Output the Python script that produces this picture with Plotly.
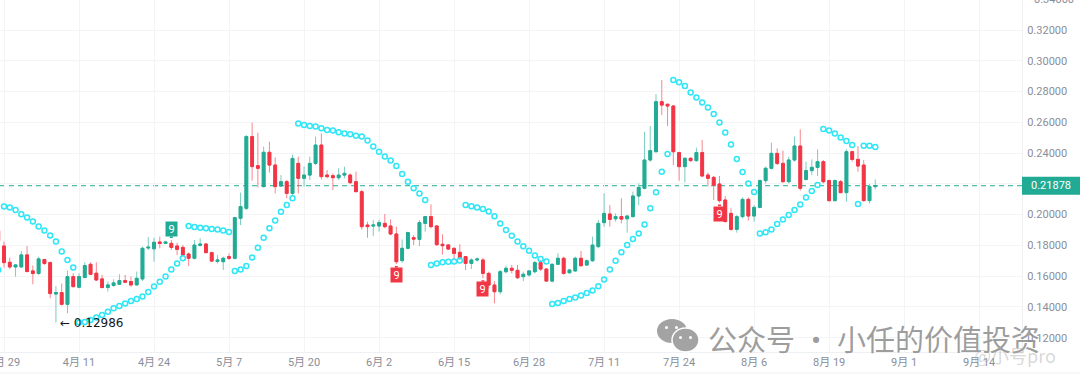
import pandas as pd
import plotly.graph_objects as go

# ---------------- data ----------------
dates = pd.date_range("2024-03-28", "2024-08-27", freq="D")

opens = [
    0.1895, 0.1796, 0.1690, 0.1660,
    0.1660, 0.1738, 0.1634, 0.1617, 0.1708, 0.1688, 0.1484, 0.1493, 0.1417, 0.1597,
    0.1528, 0.1591, 0.1677, 0.1619, 0.1582, 0.1526, 0.1539, 0.1547, 0.1571, 0.1565,
    0.1543, 0.1582, 0.1783, 0.1778, 0.1822, 0.1813, 0.1813, 0.1796, 0.1787, 0.1744,
    0.1716, 0.1800, 0.1809, 0.1753, 0.1696, 0.1694, 0.1727, 0.1716, 0.1976, 0.2041,
    0.2507, 0.2318, 0.2182, 0.2405, 0.2322, 0.2186, 0.2214, 0.2138, 0.2333, 0.2236,
    0.2257, 0.2333, 0.2452, 0.2257, 0.2253, 0.2240, 0.2257, 0.2257, 0.2214, 0.2149, 0.1932,
    0.1926, 0.1926, 0.1943, 0.1926, 0.1874, 0.1701, 0.1781, 0.1850, 0.1839, 0.1943,
    0.1987, 0.1926, 0.1807, 0.1803, 0.1781, 0.1755, 0.1727, 0.1683, 0.1705, 0.1705,
    0.1618, 0.1542, 0.1499, 0.1629, 0.1651, 0.1638, 0.1597, 0.1608, 0.1629, 0.1688,
    0.1646, 0.1568, 0.1677, 0.1716, 0.1622, 0.1634, 0.1716, 0.1672, 0.1700, 0.1792,
    0.1948, 0.2004, 0.1973, 0.1987, 0.1973, 0.1987, 0.2121, 0.2171, 0.2355, 0.2409,
    0.2734, 0.2717, 0.2706, 0.2403, 0.2312, 0.2366, 0.2351, 0.2403, 0.2257, 0.2242, 0.2199,
    0.2095, 0.2008, 0.1904, 0.1987, 0.2099, 0.1991, 0.2047, 0.2221, 0.2301, 0.2398,
    0.2333, 0.2214, 0.2355, 0.2446, 0.2229, 0.2286, 0.2307, 0.2344, 0.2221, 0.2091,
    0.2214, 0.2143, 0.2409, 0.2359, 0.2322, 0.2091, 0.2182,
]
highs = [
    0.1905, 0.1825, 0.1721, 0.1677,
    0.1764, 0.1796, 0.1669, 0.1727, 0.1712, 0.1695, 0.1536, 0.1552, 0.1636, 0.1619,
    0.1619, 0.1690, 0.1690, 0.1690, 0.1608, 0.1565, 0.1580, 0.1612, 0.1608, 0.1597,
    0.1630, 0.1792, 0.1854, 0.1850, 0.1857, 0.1830, 0.1835, 0.1818, 0.1802, 0.1753,
    0.1835, 0.1846, 0.1813, 0.1759, 0.1737, 0.1727, 0.1748, 0.1987, 0.2143, 0.2517,
    0.2598, 0.2533, 0.2442, 0.2474, 0.2372, 0.2257, 0.2225, 0.2390, 0.2377, 0.2312,
    0.2377, 0.2507, 0.2528, 0.2290, 0.2268, 0.2301, 0.2312, 0.2268, 0.2279, 0.2160, 0.1954,
    0.1965, 0.1965, 0.2004, 0.1969, 0.1922, 0.1839, 0.1889, 0.1867, 0.1965, 0.1991,
    0.2067, 0.1932, 0.1872, 0.1807, 0.1785, 0.1807, 0.1731, 0.1716, 0.1720, 0.1720,
    0.1629, 0.1568, 0.1640, 0.1668, 0.1673, 0.1673, 0.1629, 0.1640, 0.1699, 0.1705,
    0.1651, 0.1683, 0.1748, 0.1727, 0.1646, 0.1727, 0.1764, 0.1709, 0.1857, 0.1965,
    0.2138, 0.2062, 0.2008, 0.2106, 0.1997, 0.2149, 0.2203, 0.2539, 0.2576, 0.2784,
    0.2875, 0.2723, 0.2712, 0.2409, 0.2372, 0.2372, 0.2435, 0.2485, 0.2273, 0.2251, 0.2251,
    0.2121, 0.2041, 0.1997, 0.2112, 0.2112, 0.2062, 0.2229, 0.2312, 0.2468, 0.2431,
    0.2416, 0.2377, 0.2507, 0.2554, 0.2344, 0.2359, 0.2424, 0.2355, 0.2229, 0.2229,
    0.2225, 0.2424, 0.2416, 0.2446, 0.2355, 0.2199, 0.2229,
]
lows = [
    0.1815, 0.1656, 0.1647, 0.1597,
    0.1656, 0.1625, 0.1547, 0.1608, 0.1673, 0.1456, 0.12986, 0.1409, 0.1359, 0.1526,
    0.1521, 0.1586, 0.1608, 0.1569, 0.1521, 0.1500, 0.1532, 0.1543, 0.1554, 0.1532,
    0.1539, 0.1569, 0.1770, 0.1694, 0.1781, 0.1809, 0.1770, 0.1737, 0.1727, 0.1666,
    0.1709, 0.1792, 0.1748, 0.1694, 0.1683, 0.1640, 0.1705, 0.1709, 0.1932, 0.2030,
    0.2221, 0.2177, 0.2177, 0.2273, 0.2138, 0.2182, 0.2106, 0.2127, 0.2138, 0.2182,
    0.2225, 0.2322, 0.2229, 0.2236, 0.2160, 0.2225, 0.2236, 0.2199, 0.2149, 0.1904, 0.1850,
    0.1861, 0.1889, 0.1911, 0.1867, 0.1679, 0.1688, 0.1774, 0.1802, 0.1796, 0.1889,
    0.1911, 0.1796, 0.1740, 0.1770, 0.1711, 0.1705, 0.1640, 0.1646, 0.1694, 0.1586,
    0.1521, 0.1423, 0.1482, 0.1618, 0.1618, 0.1581, 0.1568, 0.1597, 0.1618, 0.1634,
    0.1564, 0.1560, 0.1673, 0.1608, 0.1618, 0.1629, 0.1662, 0.1666, 0.1694, 0.1781,
    0.1922, 0.1922, 0.1954, 0.1943, 0.1883, 0.1982, 0.2062, 0.2164, 0.2344, 0.2403,
    0.2647, 0.2576, 0.2322, 0.2221, 0.2208, 0.2344, 0.2344, 0.2247, 0.2182, 0.2095, 0.2078,
    0.1948, 0.1896, 0.1883, 0.1976, 0.1961, 0.1954, 0.2041, 0.2203, 0.2294, 0.2322,
    0.2208, 0.2203, 0.2344, 0.2156, 0.2221, 0.2257, 0.2251, 0.2203, 0.2084, 0.2084,
    0.2138, 0.2084, 0.2344, 0.2279, 0.2084, 0.2073, 0.2164,
]
closes = [
    0.1830, 0.1688, 0.1660, 0.1673,
    0.1738, 0.1630, 0.1617, 0.1712, 0.1682, 0.1487, 0.1493, 0.1417, 0.1597, 0.1532,
    0.1597, 0.1669, 0.1612, 0.1575, 0.1526, 0.1543, 0.1556, 0.1571, 0.1560, 0.1543,
    0.1586, 0.1781, 0.1788, 0.1820, 0.1813, 0.1822, 0.1787, 0.1774, 0.1737, 0.1716,
    0.1802, 0.1809, 0.1753, 0.1698, 0.1705, 0.1716, 0.1716, 0.1980, 0.2052, 0.2507,
    0.2312, 0.2301, 0.2405, 0.2322, 0.2182, 0.2214, 0.2138, 0.2365, 0.2236, 0.2257,
    0.2333, 0.2452, 0.2247, 0.2247, 0.2240, 0.2257, 0.2268, 0.2208, 0.2149, 0.1922, 0.1922,
    0.1932, 0.1948, 0.1922, 0.1874, 0.1694, 0.1781, 0.1883, 0.1841, 0.1948, 0.1987,
    0.1922, 0.1805, 0.1798, 0.1776, 0.1748, 0.1720, 0.1683, 0.1705, 0.1711, 0.1618,
    0.1542, 0.1499, 0.1629, 0.1651, 0.1638, 0.1590, 0.1612, 0.1634, 0.1688, 0.1646,
    0.1568, 0.1677, 0.1716, 0.1618, 0.1640, 0.1716, 0.1668, 0.1700, 0.1802, 0.1943,
    0.2008, 0.1969, 0.1987, 0.1971, 0.1991, 0.2121, 0.2177, 0.2355, 0.2416, 0.2734,
    0.2712, 0.2706, 0.2409, 0.2312, 0.2366, 0.2351, 0.2403, 0.2251, 0.2236, 0.2192, 0.2091,
    0.1955, 0.1904, 0.1987, 0.2099, 0.1991, 0.2047, 0.2221, 0.2301, 0.2398, 0.2333,
    0.2214, 0.2355, 0.2446, 0.2171, 0.2286, 0.2307, 0.2344, 0.2214, 0.2091, 0.2221,
    0.2143, 0.2409, 0.2359, 0.2316, 0.2091, 0.2182, 0.21878,
]
# Parabolic SAR
sar = [
    0.1640, 0.2052, 0.2046, 0.2030,
    0.2002, 0.1981, 0.1955, 0.1922, 0.1896, 0.1864, 0.1825, 0.1760, 0.1705, 0.1656,
    0.1299, 0.1302, 0.1315, 0.1332, 0.1347, 0.1369, 0.1391, 0.1406, 0.1423, 0.1438,
    0.1451, 0.1467, 0.1497, 0.1532, 0.1564, 0.1597, 0.1644, 0.1683, 0.1716, 0.1926,
    0.1919, 0.1915, 0.1911, 0.1906, 0.1904, 0.1896, 0.1887, 0.1633, 0.1644, 0.1666,
    0.1722, 0.1785, 0.1850, 0.1911, 0.1961, 0.2019, 0.2062, 0.2106, 0.2593, 0.2582,
    0.2576, 0.2572, 0.2561, 0.2550, 0.2546, 0.2535, 0.2528, 0.2522, 0.2513, 0.2507, 0.2481,
    0.2442, 0.2409, 0.2377, 0.2351, 0.2316, 0.2264, 0.2214, 0.2171, 0.2138, 0.2095,
    0.1672, 0.1683, 0.1690, 0.1694, 0.1696, 0.1701, 0.2062, 0.2054, 0.2046, 0.2036,
    0.2021, 0.1989, 0.1943, 0.1900, 0.1863, 0.1826, 0.1794, 0.1765, 0.1735, 0.1711,
    0.1695, 0.1419, 0.1425, 0.1438, 0.1451, 0.1462, 0.1474, 0.1490, 0.1507, 0.1534,
    0.1579, 0.1644, 0.1700, 0.1755, 0.1803, 0.1841, 0.1878, 0.1935, 0.2042, 0.2146,
    0.2279, 0.2394, 0.2875, 0.2860, 0.2836, 0.2793, 0.2762, 0.2728, 0.2697, 0.2654, 0.2598,
    0.2534, 0.2455, 0.2361, 0.2277, 0.2203, 0.2147, 0.1878, 0.1885, 0.1904, 0.1939,
    0.1969, 0.1997, 0.2030, 0.2065, 0.2112, 0.2153, 0.2192, 0.2556, 0.2546, 0.2528,
    0.2502, 0.2478, 0.2452, 0.2069, 0.2448, 0.2448, 0.2439,
]
# TD sequential "9" labels
td_up_dates = ["2024-04-27"]
td_down_dates = ["2024-06-05", "2024-06-20", "2024-07-31"]
td_text = "9"

tick_dates = pd.date_range("2024-03-29", periods=14, freq="13D")
tick_text = [f"{d.month}月 {d.day}" for d in tick_dates]
price_ticks = [0.12, 0.14, 0.16, 0.18, 0.20, 0.22, 0.24, 0.26, 0.28, 0.30, 0.32]
top_tick_text = "0.34000"
last_price = 0.21878
min_date, min_price = "2024-04-07", 0.12986

assert len(opens) == len(highs) == len(lows) == len(closes) == len(sar) == len(dates)

# ---------------- styles ----------------
UP = "#22ab94"
DOWN = "#f23645"
UP_W = "rgba(34,171,148,0.6)"
DOWN_W = "rgba(242,54,69,0.6)"
GRID = "#f3f4f6"
AXIS_TXT = "#8a8e99"
W, H = 1080, 381
ML, MR, MT, MB = 0, 58, 0, 29
PW, PH = W - ML - MR, H - MT - MB
Y0, Y1 = 0.1107, 0.3395
PX_PER_UNIT = PH / (Y1 - Y0)

def px(x):
    return (x - ML) / PW

def py(y):
    return (H - MB - y) / PH

fig = go.Figure()

# wicks (lighter)
fig.add_trace(go.Candlestick(
    x=dates, open=opens, high=highs, low=lows, close=closes,
    increasing=dict(line=dict(color=UP_W, width=1), fillcolor="rgba(0,0,0,0)"),
    decreasing=dict(line=dict(color=DOWN_W, width=1), fillcolor="rgba(0,0,0,0)"),
    whiskerwidth=0, showlegend=False, hoverinfo="skip",
))
# bodies
body_hi = [max(o, c) for o, c in zip(opens, closes)]
body_lo = [min(o, c) for o, c in zip(opens, closes)]
fig.add_trace(go.Candlestick(
    x=dates, open=opens, high=body_hi, low=body_lo, close=closes,
    increasing=dict(line=dict(color=UP, width=1), fillcolor=UP),
    decreasing=dict(line=dict(color=DOWN, width=1), fillcolor=DOWN),
    whiskerwidth=0, showlegend=False,
))
# Parabolic SAR
fig.add_trace(go.Scatter(
    x=dates, y=sar, mode="markers", showlegend=False,
    marker=dict(symbol="circle-open", size=5, color="#2fe6f7", line=dict(width=1.5)),
))

annotations = []
hi_map = dict(zip(dates.strftime("%Y-%m-%d"), highs))
lo_map = dict(zip(dates.strftime("%Y-%m-%d"), lows))
for d in td_up_dates:
    annotations.append(dict(x=d, y=hi_map[d], xref="x", yref="y", text=td_text,
                            showarrow=True, ax=0, ay=-11, arrowhead=0, arrowwidth=3,
                            arrowcolor=UP, standoff=2,
                            bgcolor=UP, font=dict(color="white", size=11, family="Roboto"),
                            width=9, height=12, borderpad=1))
for d in td_down_dates:
    annotations.append(dict(x=d, y=lo_map[d], xref="x", yref="y", text=td_text,
                            showarrow=True, ax=0, ay=11, arrowhead=0, arrowwidth=3,
                            arrowcolor=DOWN, standoff=2,
                            bgcolor=DOWN, font=dict(color="white", size=11, family="Roboto"),
                            width=9, height=12, borderpad=1))
# min label
annotations.append(dict(x=min_date, y=min_price, xref="x", yref="y", text="← " + f"{min_price:.5f}",
                        showarrow=False, xanchor="left", yanchor="middle", xshift=2,
                        font=dict(color="#131722", size=12, family="DejaVu Sans, Roboto")))
# last price label text
annotations.append(dict(x=px(1051), y=last_price, xref="paper", yref="y", text=f"{last_price:.5f}",
                        showarrow=False, xanchor="center", yanchor="middle",
                        font=dict(color="white", size=11, family="Roboto")))
# partially visible top label
top_px = PH - (0.34 - Y0) * PX_PER_UNIT
annotations.append(dict(x=px(1032), y=py(top_px), xref="paper", yref="paper", text=top_tick_text,
                        showarrow=False, xanchor="left", yanchor="middle",
                        font=dict(color=AXIS_TXT, size=11, family="Roboto")))
# watermark
NB = "\u00a0"
annotations.append(dict(x=px(706), y=py(338), xref="paper", yref="paper",
                        text=f"公众号{NB}·{NB}小任的价值投资", showarrow=False,
                        xanchor="left", yanchor="middle",
                        font=dict(color="rgba(140,140,140,0.85)", size=29, family="Noto Sans CJK SC")))
annotations.append(dict(x=px(1015), y=py(355), xref="paper", yref="paper",
                        text="@小号pro", showarrow=False, xanchor="center", yanchor="middle",
                        font=dict(color="rgba(170,170,170,0.45)", size=18, family="Noto Sans CJK SC")))

box_half = 9 / PX_PER_UNIT
shapes = [
    dict(type="line", xref="paper", yref="y", x0=0, x1=1, y0=last_price, y1=last_price,
         line=dict(color=UP, width=1, dash="5px,4px"), layer="below"),
    dict(type="rect", xref="paper", yref="y", x0=1, x1=px(1080),
         y0=last_price - box_half, y1=last_price + box_half,
         fillcolor=UP, line=dict(width=0)),
    dict(type="line", xref="paper", yref="paper", x0=0, x1=px(1080), y0=py(373), y1=py(373),
         line=dict(color="#eef0f3", width=1)),
    # wechat icon
    dict(type="circle", xref="paper", yref="paper", x0=px(657), x1=px(687), y0=py(343), y1=py(319),
         fillcolor="#a3a3a3", line=dict(width=0)),
    dict(type="circle", xref="paper", yref="paper", x0=px(672), x1=px(699), y0=py(352), y1=py(328),
         fillcolor="#a3a3a3", line=dict(color="white", width=1.5)),
    dict(type="circle", xref="paper", yref="paper", x0=px(665), x1=px(668), y0=py(329), y1=py(326),
         fillcolor="white", line=dict(width=0)),
    dict(type="circle", xref="paper", yref="paper", x0=px(675), x1=px(678), y0=py(329), y1=py(326),
         fillcolor="white", line=dict(width=0)),
    dict(type="circle", xref="paper", yref="paper", x0=px(679), x1=px(682), y0=py(339), y1=py(336),
         fillcolor="white", line=dict(width=0)),
    dict(type="circle", xref="paper", yref="paper", x0=px(689), x1=px(692), y0=py(339), y1=py(336),
         fillcolor="white", line=dict(width=0)),
]

fig.update_layout(
    width=W, height=H, margin=dict(l=ML, r=MR, t=MT, b=MB, autoexpand=False),
    paper_bgcolor="white", plot_bgcolor="white",
    showlegend=False, annotations=annotations, shapes=shapes,
    xaxis=dict(
        type="date", range=["2024-03-28 07:22", "2024-09-21 10:20"],
        rangeslider=dict(visible=False), automargin=False, ticklabeloverflow="allow",
        tickvals=list(tick_dates), ticktext=tick_text,
        showgrid=True, gridcolor=GRID, gridwidth=1,
        showline=True, linecolor="#eef0f3", linewidth=1,
        ticks="", tickfont=dict(color=AXIS_TXT, size=11, family="Roboto, Noto Sans CJK SC"),
        zeroline=False, fixedrange=True,
    ),
    yaxis=dict(
        side="right", range=[Y0, Y1], automargin=False, ticklabeloverflow="allow",
        tickvals=price_ticks, tickformat=".5f",
        showgrid=True, gridcolor=GRID, gridwidth=1,
        showline=True, linecolor="#eef0f3", linewidth=1,
        ticks="outside", ticklen=2, tickcolor="rgba(0,0,0,0)",
        tickfont=dict(color=AXIS_TXT, size=11, family="Roboto"),
        zeroline=False, fixedrange=True,
    ),
)

fig.write_html(
    "out.html",
    config={"displayModeBar": False},
    post_script="document.body.style.margin='0';document.body.style.overflow='hidden';",
)
